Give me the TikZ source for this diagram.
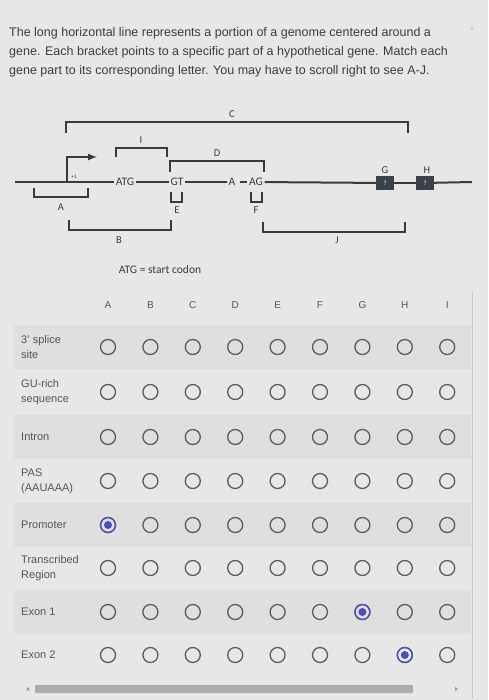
\documentclass[tikz,border=0pt]{standalone}
\usepackage{fontspec}
\setmainfont{Liberation Sans}
\newfontfamily\figfont{Carlito}
\definecolor{paper}{HTML}{E7E7E7}
\definecolor{band}{HTML}{DFDFDF}
\definecolor{ink}{HTML}{3A3A3A}
\definecolor{formtext}{HTML}{3C3C3C}
\definecolor{rowtext}{HTML}{555555}
\definecolor{ring}{HTML}{5C5C5C}
\definecolor{pick}{HTML}{4B4FB3}
\definecolor{exonfill}{HTML}{3B4149}

\tikzset{
  gline/.style={draw=ink,line width=2pt},
  bracket/.style={draw=ink,line width=2pt},
  seq/.style={inner sep=1.5pt,text=ink,font=\figfont\fontsize{11.5}{11.5}\selectfont},
  lab/.style={inner sep=0pt,text=ink,font=\figfont\fontsize{10.5}{10.5}\selectfont},
  exon/.style={rectangle,fill=exonfill,minimum width=18pt,minimum height=14pt,
    inner sep=0pt,text=white,font=\figfont\fontsize{6.5}{6.5}\selectfont},
  rowlab/.style={anchor=west,align=left,inner sep=0pt,text=rowtext,
    font=\fontsize{11}{15}\selectfont},
  colhead/.style={inner sep=0pt,text=rowtext,font=\fontsize{10}{10}\selectfont},
  radio/.style={circle,draw=ring,line width=1.3pt,minimum size=15pt,inner sep=0pt},
  picked/.style={radio,draw=pick,
    path picture={\fill[pick] (path picture bounding box.center) circle (4pt);}}
}

\begin{document}
\begin{tikzpicture}[x=1pt,y=-1pt]

\fill[paper] (0,0) rectangle (488,700);
\useasboundingbox (0,0) rectangle (488,700);

% question text
\node[anchor=north west,align=left,inner sep=0pt,text=formtext,
  font=\fontsize{12.5}{19}\selectfont] (title) at (9,27)
  {The long horizontal line represents a portion of a genome centered around a\\
   gene. Each bracket points to a specific part of a hypothetical gene. Match each\\
   gene part to its corresponding letter. You may have to scroll right to see A-J.};
\node[text=red!45,inner sep=0pt,font=\fontsize{9}{9}\selectfont] (star) at (472,30) {*};

% the genome line
\coordinate (left) at (15,182);
\coordinate (right) at (472,182);
\node[seq] (atg) at (125,182) {ATG};
\node[seq] (gt) at (177,182) {GT};
\node[seq] (ea) at (232,182) {A};
\node[seq] (ag) at (256,182) {AG};
\node[exon] (exG) at (385,183) {?};
\node[exon] (exH) at (425,183) {?};

\draw[gline] (left) -- (atg);
\draw[gline] (atg) -- (gt);
\draw[gline] (gt) -- (ea);
\draw[gline,shorten <=3pt] (ea) -- (ag);
\draw[gline] (ag) -- (exG);
\draw[gline] (exG) -- (exH);
\draw[gline] (exH) -- (right);

% transcription start
\coordinate (tss) at (67,182);
\coordinate (tsstip) at (97,157);
\draw[gline,-latex] (tss) |- (tsstip);
\node[inner sep=0pt,text=ink,font=\fontsize{5}{5}\selectfont] (plusone) at (74,177) {+1};

% brackets above
\draw[bracket] (66,133) |- (408,122) -- (408,133);
\node[lab] (labC) at (232,114) {C};
\draw[bracket] (116,157) |- (167,148) -- (167,157);
\node[lab] (labI) at (141,140) {I};
\draw[bracket] (170,172) |- (264,161) -- (264,172);
\node[lab] (labD) at (217,153) {D};
\node[lab] (labG) at (385,170) {G};
\node[lab] (labH) at (427,170) {H};

% brackets below
\draw[bracket] (34,188) |- (88,197) -- (88,188);
\node[lab] (labA) at (61,207) {A};
\draw[bracket] (171,192) |- (182,202) -- (182,192);
\node[lab] (labE) at (177,210) {E};
\draw[bracket] (69,220) |- (171,230) -- (171,220);
\node[lab] (labB) at (119,240) {B};
\draw[bracket] (251,192) |- (262,202) -- (262,192);
\node[lab] (labF) at (256,210) {F};
\draw[bracket] (263,222) |- (405,232) -- (405,222);
\node[lab] (labJ) at (337,240) {J};

\node[seq] (key) at (160,270) {ATG = start codon};

% answer grid
\foreach \y in {347,437,525,612}
  \fill[band] (14,\y-22) rectangle (471,\y+22);
\draw[black!22,line width=0.8pt] (472,292) -- (472,698);

\foreach \c [count=\i] in {A,B,C,D,E,F,G,H,I}
  \node[colhead] (col\i) at ({108+42.4*(\i-1)},305) {\c};

\foreach \y/\t [count=\r] in {347/{3' splice\\site},392/{GU-rich\\sequence},
    437/Intron,481/{PAS\\(AAUAAA)},525/Promoter,568/{Transcribed\\Region},
    612/Exon 1,655/Exon 2}{
  \node[rowlab] (row\r) at (21,\y) {\t};
  \foreach \i in {1,...,9}
    \node[radio] (r\r-\i) at ({108+42.4*(\i-1)},\y) {};
}

% chosen answers
\node[picked] (pickPromoter) at (r5-1) {};
\node[picked] (pickExonOne) at (r7-7) {};
\node[picked] (pickExonTwo) at (r8-8) {};

% scroll bar
\fill[black!32,rounded corners=1pt] (35,685) rectangle (413,693);
\fill[black!40] (26,689) -- (29,687) -- (29,691) -- cycle;
\fill[black!40] (458,689) -- (455,687) -- (455,691) -- cycle;

\end{tikzpicture}
\end{document}
